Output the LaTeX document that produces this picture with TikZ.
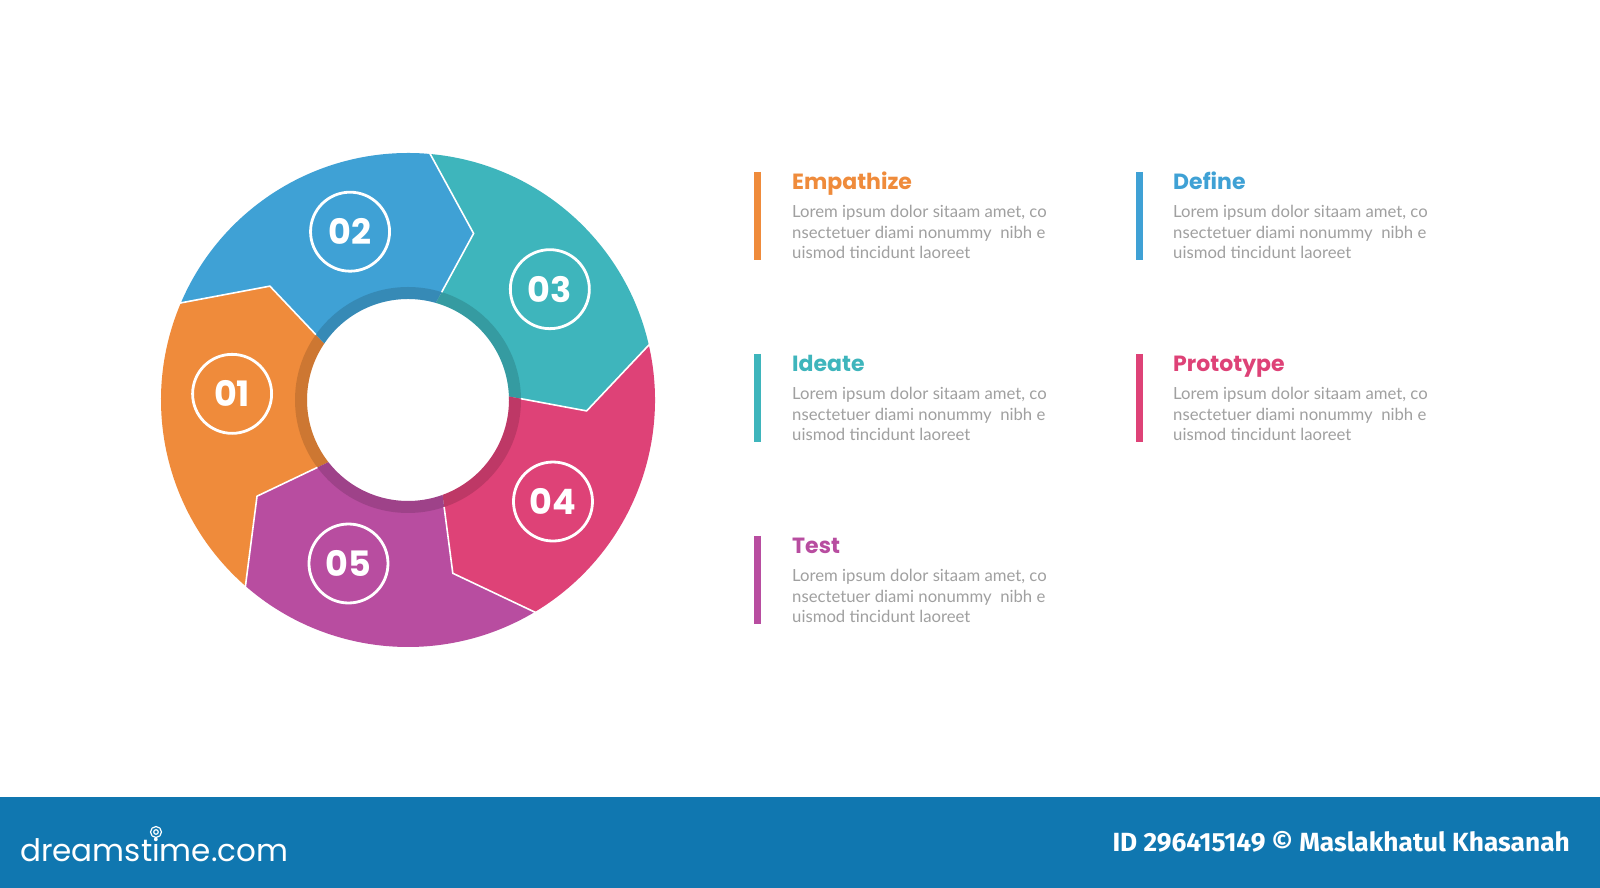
\documentclass[tikz,border=0pt]{standalone}
\usepackage{fontspec}
\setmainfont{Lato}
\newfontfamily\popp{Poppins}
\newfontfamily\fira{Fira Sans}
\usetikzlibrary{calc}
\definecolor{corange}{HTML}{EF8B3B}
\definecolor{cblue}{HTML}{3FA1D5}
\definecolor{cteal}{HTML}{3EB5BC}
\definecolor{cpink}{HTML}{DE4277}
\definecolor{cpurple}{HTML}{B84DA0}
\definecolor{cbody}{HTML}{A0A0A0}
\definecolor{cfoot}{HTML}{1077B0}
\newcommand\ringseg[3]{%
  \fill[#1] (#3:247) arc[start angle=#3, end angle=#2, radius=247]
    -- ({#2-16.5}:179) -- ({#2-11}:101)
    arc[start angle={#2-11}, end angle={#3-11}, radius=101]
    -- ({#3-16.5}:179) -- cycle;}
\newcommand\loremtxt{\vtop{\hbox{Lorem ipsum dolor sitaam amet, co}\hbox{nsectetuer diami nonummy\ \ nibh e}\hbox{uismod tincidunt laoreet}}}
\begin{document}
\begin{tikzpicture}[x=1pt,y=1pt,
  sep/.style={white, line width=1.6pt, line join=miter},
  numcirc/.style={circle, draw=white, line width=2.8pt, minimum size=79pt, inner sep=0pt, text=white, font=\popp\bfseries\fontsize{35}{35}\selectfont},
  ttl/.style={anchor=base west, inner sep=0pt, font=\popp\bfseries\fontsize{22}{22}\selectfont},
  body/.style={anchor=base west, inner sep=0pt, text=cbody, font=\fontsize{16.7}{20.5}\selectfont},
  bar/.style={line width=7pt}]
\useasboundingbox (0,0) rectangle (1600,888);
\fill[white] (0,0) rectangle (1600,888);
% ring
\begin{scope}[shift={(408,488)}]
  \ringseg{corange}{229}{157}
  \ringseg{cblue}{157}{85}
  \ringseg{cteal}{85}{13}
  \ringseg{cpink}{13}{-59}
  \ringseg{cpurple}{-59}{-131}
  \fill[black, opacity=0.14, even odd rule] (0,0) circle (113) (0,0) circle (101);
  \foreach \a in {157,85,13,-59,-131}{
    \draw[sep] (\a:248) -- ({\a-16.5}:179) -- ($({\a-16.5}:179)!0.846!({\a-11}:101)$);
  }
  \node[numcirc] (n1) at (178:176) {01};
  \node[numcirc] (n2) at (109:178) {02};
  \node[numcirc] (n3) at (38:180) {03};
  \node[numcirc] (n4) at (-35:177) {04};
  \node[numcirc] (n5) at (-110:174) {05};
\end{scope}
% text blocks
\draw[bar, corange] (757,716) -- (757,628);
\node[ttl, text=corange] (t1) at (792,698) {Empathize};
\node[body] (b1) at (792,670) {\loremtxt};
\draw[bar, cblue] (1139.5,716) -- (1139.5,628);
\node[ttl, text=cblue] (t2) at (1173,698) {Define};
\node[body] (b2) at (1173,670) {\loremtxt};
\draw[bar, cteal] (757,534) -- (757,446);
\node[ttl, text=cteal] (t3) at (792,516) {Ideate};
\node[body] (b3) at (792,488) {\loremtxt};
\draw[bar, cpink] (1139.5,534) -- (1139.5,446);
\node[ttl, text=cpink] (t4) at (1173,516) {Prototype};
\node[body] (b4) at (1173,488) {\loremtxt};
\draw[bar, cpurple] (757,352) -- (757,264);
\node[ttl, text=cpurple] (t5) at (792,334) {Test};
\node[body] (b5) at (792,306) {\loremtxt};
% footer
\fill[cfoot] (0,0) rectangle (1600,91);
\node[anchor=base west, inner sep=0pt, text=white, font=\popp\fontsize{31}{31}\selectfont] (logo) at (20,26) {dreamstime.com};
\draw[white, line width=1.2pt] (156,56) circle (5.5) (156,56) circle (2.3);
\node[anchor=base east, inner sep=0pt, text=white, font=\fira\bfseries\fontsize{26.3}{26.3}\selectfont] (id) at (1570,36) {ID 296415149 © Maslakhatul Khasanah};
\end{tikzpicture}
\end{document}
